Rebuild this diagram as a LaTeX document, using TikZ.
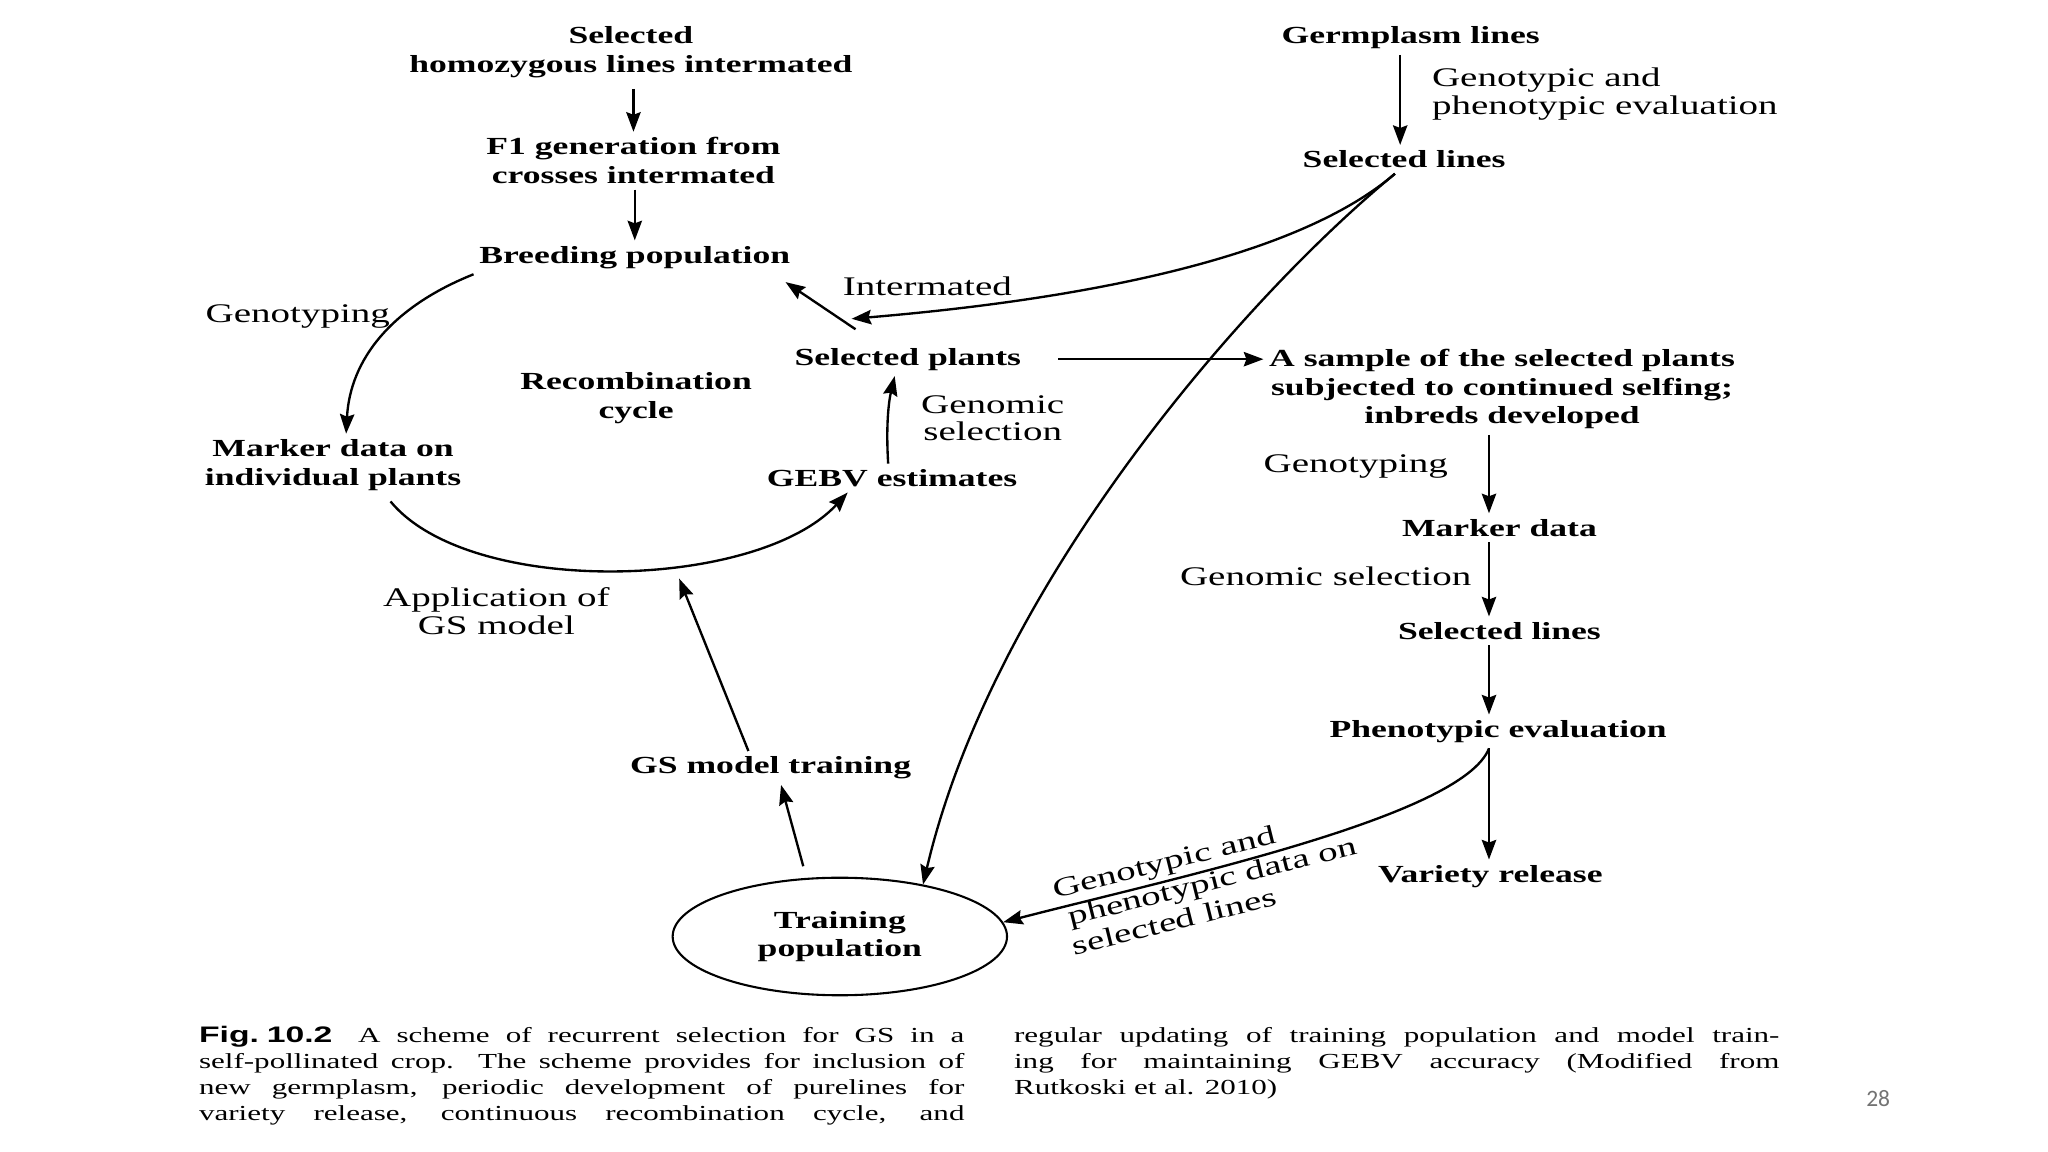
\documentclass[tikz,border=0pt]{standalone}
\usepackage{fontspec}
\setmainfont{Liberation Serif}[FakeStretch=1.45]
\newfontfamily\figsans{Liberation Sans}[FakeStretch=1.5]
\newfontfamily\slidenum{Carlito}
\usetikzlibrary{arrows.meta,shapes.geometric}

\begin{document}
\begin{tikzpicture}
[x=0.5pt,y=-0.5pt
,nd/.style={align=center,inner sep=2pt,yshift=-1pt,font=\fontsize{9.4}{11}\selectfont\bfseries}
,lb/.style={align=center,inner sep=1pt,yshift=-1pt,font=\fontsize{10.3}{10.5}\selectfont}
,tp/.style={nd,ellipse,draw,line width=0.8pt,minimum width=128pt,minimum height=45pt}
,ar/.style={line width=0.9pt,arrows={-Stealth[length=7.5pt,width=5.5pt,inset=1pt]}}
,captxt/.style={anchor=base west,inner sep=0pt,font=\fontsize{8.2}{10}\selectfont}
]
\useasboundingbox (0,0) rectangle (1568,882);
% recombination cycle
\node[nd] (selhom) at (483,38) {Selected\\homozygous lines intermated};
\node[nd] (f1) at (485,121) {F1 generation from\\crosses intermated};
\node[nd] (breed) at (486,195) {Breeding population};
\node[nd] (marker) at (255,354) {Marker data on\\individual plants};
\node[nd] (recomb) at (487,303) {Recombination\\cycle};
\node[nd] (selplants) at (695,273) {Selected plants};
\node[nd] (gebv) at (683,364) {GEBV estimates};
\node[nd] (gsmodel) at (590,586) {GS model training};
\node[tp] (train) at (643,715) {Training\\population};
\node[lb] (genoL) at (228,240) {Genotyping};
\node[lb] (inter) at (710,217) {Intermated};
\node[lb] (gsel) at (760,318) {Genomic\\selection};
\node[lb] (appl) at (380,466) {Application of\\GS model};
\coordinate (arcpt) at (520,443);
% germplasm and pureline branch
\node[nd] (germ) at (1080,27) {Germplasm lines};
\node[nd] (sellines) at (1075,120) {Selected lines};
\node[lb,anchor=west,align=left] (geneval) at (1094,70) {Genotypic and\\phenotypic evaluation};
\node[nd] (sample) at (1150,296) {A sample of the selected plants\\subjected to continued selfing;\\inbreds developed};
\node[nd] (mdata) at (1148,402) {Marker data};
\node[nd] (sellines2) at (1148,481) {Selected lines};
\node[nd] (pheno) at (1147,558) {Phenotypic evaluation};
\node[nd] (variety) at (1141,669) {Variety release};
\node[lb] (genoR) at (1038,355) {Genotyping};
\node[lb] (gselR) at (1015,439) {Genomic selection};
\node[lb,rotate=14,align=left,font=\fontsize{10.3}{11.5}\selectfont] (gpdata) at (925,673) {Genotypic and\\\hspace{3pt}phenotypic data on\\\hspace{2pt}selected lines};

\draw[ar,shorten <=2pt] (selhom.south -| f1) -- (f1.north);
\draw[ar] (f1.south -| breed) -- (breed.north);
\draw[ar] (breed.south west) .. controls (300,235) and (268,275) .. ([xshift=5pt]marker.north);
\draw[ar] ([xshift=22pt,yshift=-2pt]marker.south) .. controls (360,458) and (580,452) .. ([xshift=-17pt]gebv.south);
\draw[ar] ([xshift=-1.5pt]gebv.north) .. controls (678,322) and (681,305) .. ([xshift=-5pt]selplants.south);
\draw[ar] ([xshift=-20pt,yshift=5pt]selplants.north) -- ([xshift=-4pt,yshift=-3pt]breed.south east);
\draw[ar] ([xshift=-8.5pt]gsmodel.north) -- (arcpt);
\draw[ar] ([xshift=-14pt,yshift=4pt]train.north) -- ([xshift=4pt]gsmodel.south);

\draw[ar] ([xshift=-4pt]germ.south) -- ([xshift=-1.5pt]sellines.north);
\draw[ar] ([xshift=-3.5pt]sellines.south) .. controls (990,200) and (820,230) .. ([xshift=-21.5pt,yshift=9pt]selplants.north);
\draw[ar] ([xshift=-3.5pt]sellines.south) .. controls (950,230) and (760,450) .. (train.32);
\draw[ar] ([xshift=12pt]selplants.east) -- (selplants.east -| sample.west);
\draw[ar] ([xshift=-5pt]sample.south) -- ([xshift=-4pt]mdata.north);
\draw[ar] ([xshift=-4pt]mdata.south) -- ([xshift=-4pt]sellines2.north);
\draw[ar] ([xshift=-4pt]sellines2.south) -- ([xshift=-3.5pt]pheno.north);
\draw[ar] ([xshift=-3.5pt]pheno.south) -- ([xshift=-0.5pt]variety.north);
\draw[ar] ([xshift=-3.5pt]pheno.south) .. controls (1120,625) and (900,672) .. (train.5);

% caption
\node[captxt] (capl) at (152,798) {\parbox[t]{293pt}{%
\makebox[293pt][s]{\hbox{\figsans\bfseries\fontsize{8.6}{10}\selectfont Fig.\kern3pt10.2}\hspace{1.2em}A scheme of recurrent selection for GS in a}\\
\makebox[293pt][s]{self-pollinated crop. The scheme provides for inclusion of}\\
\makebox[293pt][s]{new germplasm, periodic development of purelines for}\\
\makebox[293pt][s]{variety release, continuous recombination cycle, and}}};
\node[captxt] (capr) at (776,798) {\parbox[t]{293pt}{%
\makebox[293pt][s]{regular updating of training population and model train-}\\
\makebox[293pt][s]{ing for maintaining GEBV accuracy (Modified from}\\
Rutkoski et al. 2010)}};
\node[text=black!55,font=\slidenum\fontsize{9}{10}\selectfont] (pagenum) at (1438,841) {28};
\end{tikzpicture}
\end{document}
